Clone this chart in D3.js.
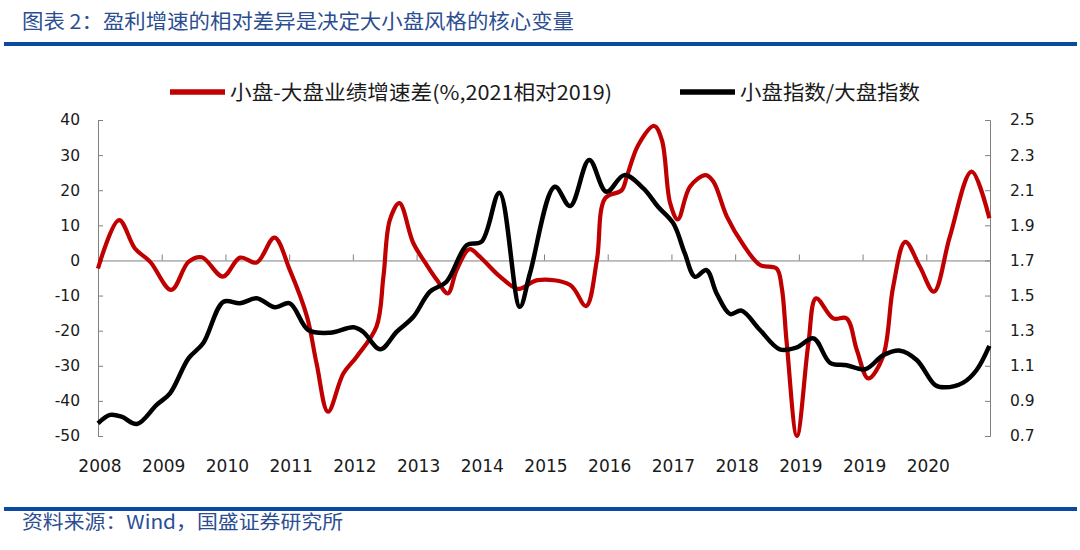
<!DOCTYPE html>
<html>
<head>
<meta charset="utf-8">
<script src="https://cdn.jsdelivr.net/npm/d3@7"></script>
<style>
  body { margin: 0; background: #fff; }
  text { font-family: "DejaVu Sans", sans-serif; }
  .cjk { font-family: "Noto Sans CJK SC", sans-serif; }
</style>
</head>
<body>
<div id="myChart"></div>
<script>
var w = 1080;
var h = 550;

// x labels under the ticks (the source really repeats 2019)
var xLabels = ["2008", "2009", "2010", "2011", "2012", "2013", "2014", "2015", "2016", "2017", "2018", "2019", "2019", "2020"];
var leftTicks = [40, 30, 20, 10, 0, -10, -20, -30, -40, -50];
var rightTicks = [2.5, 2.3, 2.1, 1.9, 1.7, 1.5, 1.3, 1.1, 0.9, 0.7];

// red series: small - large earnings growth gap (left axis), position in tick units
var redT = [0, 0.33, 0.58, 0.82, 1.15, 1.42, 1.63, 1.96, 2.23, 2.49, 2.77, 3.01, 3.28, 3.43, 3.61, 3.85, 4.06, 4.37, 4.48, 4.58, 4.73, 4.95, 5.16, 5.32, 5.49, 5.63, 5.83, 5.99, 6.31, 6.60, 6.90, 7.41, 7.66, 7.83, 7.96, 8.22, 8.30, 8.48, 8.73, 8.85, 8.98, 9.10, 9.29, 9.54, 9.66, 9.87, 10.13, 10.39, 10.65, 10.73, 10.81, 10.97, 11.15, 11.27, 11.54, 11.75, 11.91, 12.09, 12.32, 12.48, 12.67, 12.90, 13.12, 13.37, 13.71, 13.99];
var redV = [-2.3, 11.5, 3.4, -0.4, -8.4, -0.4, 0.9, -4.6, 0.8, -0.6, 6.5, -2.7, -16, -29.3, -43.1, -32.2, -27.4, -18.9, -4.6, 11.5, 16.3, 4.9, -1.3, -5.6, -9.4, -2.7, 3.2, 1.1, -4.6, -8.1, -5.6, -7, -13, 0.1, 17.7, 20, 23.9, 32.9, 38.3, 34.3, 16.3, 11.7, 21, 24.3, 22.4, 12.5, 4.4, -1.3, -2.3, -7.5, -23.6, -50, -23.6, -10.8, -16.5, -16.5, -25.5, -33.6, -27.4, -7.5, 5.3, -1.8, -8.9, 6.8, 25.3, 12];

// black series: small cap index / large cap index (right axis)
var blackT = [0, 0.19, 0.37, 0.61, 0.92, 1.13, 1.42, 1.65, 1.97, 2.23, 2.49, 2.78, 3.01, 3.30, 3.64, 4.01, 4.16, 4.43, 4.69, 4.95, 5.21, 5.47, 5.79, 6.02, 6.30, 6.62, 6.78, 7.17, 7.41, 7.71, 7.98, 8.26, 8.56, 8.79, 9.03, 9.21, 9.37, 9.55, 9.71, 9.92, 10.10, 10.39, 10.70, 10.97, 11.23, 11.49, 11.75, 12.04, 12.33, 12.59, 12.85, 13.14, 13.29, 13.58, 13.79, 13.99];
var blackV = [0.772, 0.82, 0.81, 0.768, 0.877, 0.943, 1.142, 1.228, 1.465, 1.456, 1.484, 1.433, 1.456, 1.304, 1.288, 1.319, 1.294, 1.194, 1.294, 1.379, 1.522, 1.579, 1.788, 1.807, 2.086, 1.436, 1.627, 2.12, 2.01, 2.272, 2.091, 2.186, 2.11, 2.006, 1.911, 1.74, 1.607, 1.645, 1.512, 1.395, 1.414, 1.304, 1.194, 1.205, 1.256, 1.117, 1.103, 1.08, 1.161, 1.186, 1.133, 0.99, 0.977, 1.004, 1.076, 1.213];

var redData = redT.map(function (t, i) { return { t: t, v: redV[i] }; });
var blackData = blackT.map(function (t, i) { return { t: t, v: blackV[i] }; });

const svg = d3.select('#myChart')
    .append('svg')
    .attr('width', w)
    .attr('height', h);

const x = d3.scaleLinear().domain([0, 14]).range([98, 990]);
const yL = d3.scaleLinear().domain([-50, 40]).range([436, 120]);
const yR = d3.scaleLinear().domain([0.7, 2.5]).range([436, 120]);

// title + rules
svg.append('text').attr('class', 'cjk')
    .attr('x', 22).attr('y', 29)
    .attr('font-size', 20).attr('fill', '#2b4e92')
    .attr('textLength', 552).attr('lengthAdjust', 'spacingAndGlyphs')
    .text('图表 2：盈利增速的相对差异是决定大小盘风格的核心变量');
svg.append('rect').attr('x', 4).attr('y', 42).attr('width', 1073).attr('height', 4).attr('fill', '#0b4aa2');
svg.append('rect').attr('x', 4).attr('y', 507).attr('width', 1073).attr('height', 4).attr('fill', '#0b4aa2');
svg.append('text').attr('class', 'cjk')
    .attr('x', 22).attr('y', 529)
    .attr('font-size', 19).attr('fill', '#2b4e92')
    .attr('textLength', 321).attr('lengthAdjust', 'spacingAndGlyphs')
    .text('资料来源：Wind，国盛证券研究所');

// legend
const legend = [
    { label: '小盘-大盘业绩增速差(%,2021相对2019)', color: '#c00000', x: 170, len: 382 },
    { label: '小盘指数/大盘指数', color: '#000000', x: 680, len: 180 }
];
legend.forEach(function (d) {
    svg.append('line')
        .attr('x1', d.x).attr('x2', d.x + 55)
        .attr('y1', 92).attr('y2', 92)
        .attr('stroke', d.color).attr('stroke-width', 5.5);
    svg.append('text').attr('class', 'cjk')
        .attr('x', d.x + 60).attr('y', 100)
        .attr('font-size', 20).attr('fill', '#1a1a1a')
        .attr('textLength', d.len).attr('lengthAdjust', 'spacingAndGlyphs')
        .text(d.label);
});

// left axis (plain hyphen minus like the source)
const axL = svg.append('g').attr('transform', 'translate(98,0)')
    .call(d3.axisRight(yL).tickValues(leftTicks).tickSize(5).tickFormat(d => String(d)));
axL.selectAll('text').attr('x', -18).attr('text-anchor', 'end');

// right axis
const axR = svg.append('g').attr('transform', 'translate(990,0)')
    .call(d3.axisLeft(yR).tickValues(rightTicks).tickSize(5).tickFormat(d => d.toFixed(1)));
axR.selectAll('text').attr('x', 20).attr('text-anchor', 'start');

[axL, axR].forEach(function (a) {
    a.select('.domain').attr('stroke', '#808080');
    a.selectAll('.tick line').attr('stroke', '#808080');
    a.selectAll('text').attr('font-size', 15.5).attr('fill', '#1a1a1a')
        .attr('font-family', '"DejaVu Sans", sans-serif');
});

// category axis crossing at zero
const axX = svg.append('g').attr('transform', 'translate(0,' + yL(0) + ')')
    .call(d3.axisTop(x).ticks(14).tickSize(6).tickFormat(''));
axX.select('.domain').attr('stroke', '#808080');
axX.selectAll('.tick line').attr('stroke', '#808080');

svg.append('g').selectAll('text')
    .data(xLabels)
    .enter().append('text')
    .attr('x', (d, i) => x(i) + 2)
    .attr('y', 472)
    .attr('text-anchor', 'middle')
    .attr('font-size', 17)
    .attr('fill', '#1a1a1a')
    .text(d => d);

// lines
const redLine = d3.line().x(d => x(d.t)).y(d => yL(d.v)).curve(d3.curveCatmullRom.alpha(0.5));
const blackLine = d3.line().x(d => x(d.t)).y(d => yR(d.v)).curve(d3.curveCatmullRom.alpha(0.5));

svg.append('path').datum(redData)
    .attr('d', redLine)
    .attr('fill', 'none').attr('stroke', '#c00000').attr('stroke-width', 4.2)
    .attr('stroke-linejoin', 'round');

svg.append('path').datum(blackData)
    .attr('d', blackLine)
    .attr('fill', 'none').attr('stroke', '#000').attr('stroke-width', 4.5)
    .attr('stroke-linejoin', 'round');
</script>
</body>
</html>
